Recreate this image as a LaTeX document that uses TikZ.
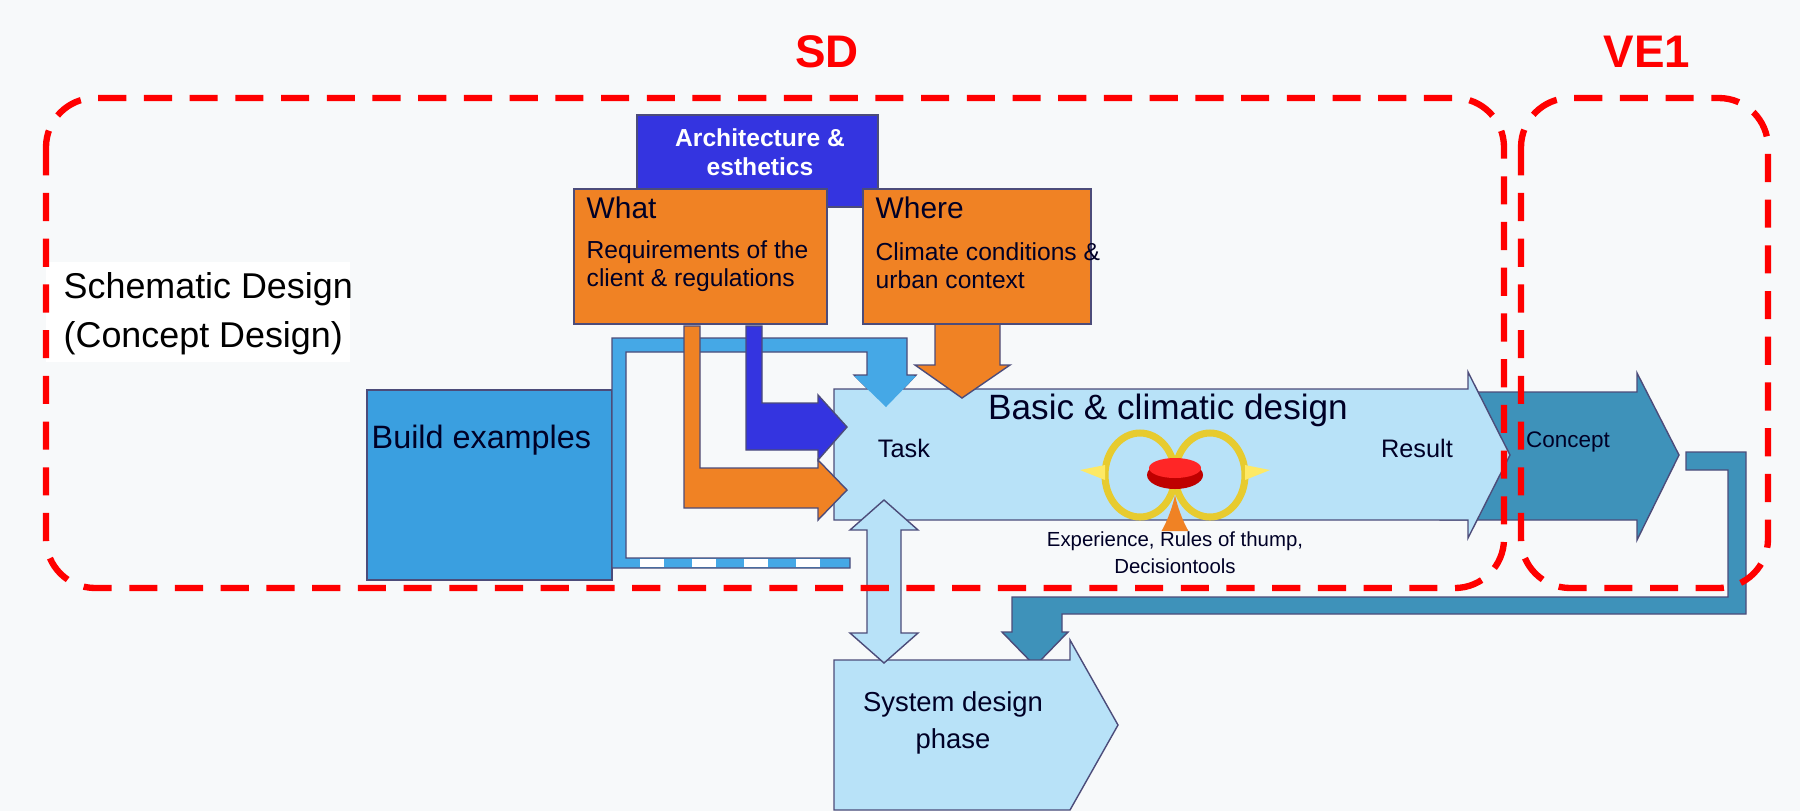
\documentclass[tikz,border=0pt]{standalone}
\usepackage{fontspec}
\setmainfont{Liberation Sans}
\begin{document}
\begin{tikzpicture}[x=0.01cm,y=-0.01cm,
  ol/.style={draw=black!55!blue!40!gray,line width=0.4pt},
  txt/.style={inner sep=0,text=black!85!blue},
  red box/.style={draw=red,line width=1.8pt,dash pattern=on 8pt off 5pt,rounded corners=14pt}]
\definecolor{bex}{HTML}{3A9FE0}
\definecolor{lb}{HTML}{B8E2F8}
\definecolor{pipe}{HTML}{45A8E6}
\definecolor{conc}{HTML}{3E92BA}
\definecolor{org}{HTML}{F08224}
\definecolor{dblue}{HTML}{3434E0}
\definecolor{bg}{HTML}{F7F9FA}
\useasboundingbox (0,0) rectangle (1800,811);
\fill[bg] (0,0) rectangle (1800,811);
\fill[white] (46,262) rectangle (350,362);
% concept pipe
\fill[conc,ol] (1686,452) -- (1746,452) -- (1746,614) -- (1062,614) -- (1062,632) -- (1068,632) -- (1035,666) -- (1002,632) -- (1012,632) -- (1012,597) -- (1728,597) -- (1728,470) -- (1686,470) -- cycle;
% concept arrow
\fill[conc,ol] (1440,392) -- (1637,392) -- (1637,373) -- (1679,455) -- (1637,540) -- (1637,520) -- (1440,520) -- cycle;
% system design
\fill[lb,ol] (834,660) -- (1070,660) -- (1070,640) -- (1118,725) -- (1070,810) -- (834,810) -- cycle;
% build examples
\fill[bex,ol] (367,390) rectangle (612,580);
% pipe outline from build examples
\fill[pipe,ol] (612,338) -- (907,338) -- (907,375) -- (916,375) -- (886,407) -- (854,375) -- (867,375) -- (867,352) -- (626,352) -- (626,558) -- (850,558) -- (850,568) -- (612,568) -- cycle;
\foreach \i in {0,1,2,3}{\fill[white] (640+\i*52,559) rectangle (664+\i*52,567);}
% main arrow
\fill[lb,ol] (834,389) -- (1468,389) -- (1468,372) -- (1510,455) -- (1468,538) -- (1468,520) -- (834,520) -- cycle;
% orange L
\fill[org,ol] (684,326) -- (700,326) -- (700,468) -- (818,468) -- (818,460) -- (847,490) -- (818,520) -- (818,508) -- (684,508) -- cycle;
% dark blue L
\fill[dblue,ol] (746,326) -- (762,326) -- (762,403) -- (818,403) -- (818,395) -- (847,427) -- (818,460) -- (818,450) -- (746,450) -- cycle;
% pipe arrow head over main arrow
\fill[pipe] (867,376) -- (907,376) -- (916,376) -- (886,407) -- (854,376) -- cycle;
% where arrow
\fill[org,ol] (935,322) -- (1000,322) -- (1000,365) -- (1010,365) -- (962,398) -- (915,365) -- (935,365) -- cycle;
% double arrow
\fill[lb,ol] (884,500) -- (918,530) -- (901,530) -- (901,633) -- (918,633) -- (884,663) -- (850,633) -- (867,633) -- (867,530) -- (850,530) -- cycle;
% boxes
\fill[dblue,ol] (637,115) rectangle (878,207);
\fill[org,ol] (574,189) rectangle (827,324);
\fill[org,ol] (863,189) rectangle (1091,324);
% icon
\draw[yellow!60!brown,line width=2pt] (1140,475) ellipse (35 and 42);
\draw[yellow!60!brown,line width=2pt] (1210,475) ellipse (35 and 42);
\fill[yellow!80!orange!60] (1105,465) -- (1080,470) -- (1105,480) -- cycle;
\fill[yellow!80!orange!60] (1245,465) -- (1270,470) -- (1245,480) -- cycle;
\fill[red!75!black] (1175,475) ellipse (28 and 14);
\fill[red!85] (1175,468) ellipse (26 and 10);
\draw[org,line width=2.5pt,-latex] (1175,525) -- (1175,495);
% texts
\node[text=red,font=\bfseries\fontsize{13}{15}\selectfont] (sd) at (827,52) {SD};
\node[text=red,font=\bfseries\fontsize{13}{15}\selectfont] (ve) at (1647,52) {VE1};
\node[anchor=west,align=left,font=\fontsize{10.2}{14}\selectfont,inner sep=0] (sch) at (63,314) {Schematic Design\\(Concept Design)};
\node[text=white,font=\bfseries\fontsize{7}{8.2}\selectfont,align=center,inner sep=0] (arch) at (760,152) {Architecture \&\\esthetics};
\node[txt,anchor=west,font=\fontsize{8.5}{9}\selectfont] (what) at (586,208) {What};
\node[txt,anchor=west,align=left,font=\fontsize{7}{8}\selectfont] (req) at (586,266) {Requirements of the\\client \& regulations};
\node[txt,anchor=west,font=\fontsize{8.5}{9}\selectfont] (where) at (875,208) {Where};
\node[txt,anchor=west,align=left,font=\fontsize{7}{8}\selectfont] (clim) at (875,266) {Climate conditions \&\\urban context};
\node[txt,anchor=west,font=\fontsize{9.2}{10}\selectfont] (bex) at (371,440) {Build examples};
\node[txt,font=\fontsize{10}{11}\selectfont] (basic) at (1168,410) {Basic \& climatic design};
\node[txt,font=\fontsize{7.2}{8}\selectfont] (task) at (904,448) {Task};
\node[txt,font=\fontsize{7.2}{8}\selectfont] (res) at (1417,448) {Result};
\node[txt,font=\fontsize{6.4}{7}\selectfont] (con) at (1568,442) {Concept};
\node[txt,align=center,font=\fontsize{5.8}{7.7}\selectfont] (exp) at (1175,553) {Experience, Rules of thump,\\Decisiontools};
\node[txt,align=center,font=\fontsize{7.8}{10.5}\selectfont] (sys) at (953,723) {System design\\phase};
% red dashed boxes
\draw[red box] (46,98) rectangle (1504,588);
\draw[red box] (1521,98) rectangle (1768,588);
\end{tikzpicture}
\end{document}
